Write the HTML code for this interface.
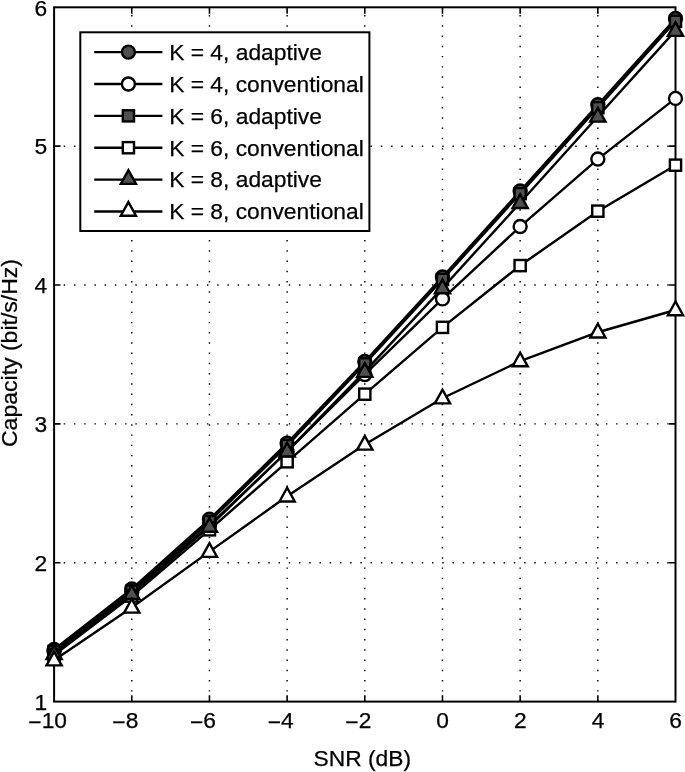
<!DOCTYPE html>
<html lang="en">
<head>
<meta charset="utf-8">
<title>Capacity versus SNR</title>
<style>
html,body{margin:0;padding:0;background:#fff;}
body{width:685px;height:772px;overflow:hidden;}
svg{display:block;}
text{font-family:"Liberation Sans",sans-serif;font-size:22.8px;fill:#000;stroke:#000;stroke-width:0.25px;}
.ax{fill:none;stroke:#000;stroke-width:2;}
.grid{fill:none;stroke:#000;stroke-width:1.45;stroke-dasharray:1.45 8.78;}
.ser{stroke:#000;stroke-width:2.4;stroke-linejoin:miter;stroke-miterlimit:10;}
.ser polyline,.ser line{fill:none;}
</style>
</head>
<body>
<svg width="685" height="772" viewBox="0 0 685 772">
<rect x="0" y="0" width="685" height="772" fill="#fff"/>

<g class="grid">
<line x1="131.78" y1="701.85" x2="131.78" y2="7.30"/>
<line x1="209.45" y1="701.85" x2="209.45" y2="7.30"/>
<line x1="287.12" y1="701.85" x2="287.12" y2="7.30"/>
<line x1="364.80" y1="701.85" x2="364.80" y2="7.30"/>
<line x1="442.48" y1="701.85" x2="442.48" y2="7.30"/>
<line x1="520.15" y1="701.85" x2="520.15" y2="7.30"/>
<line x1="597.83" y1="701.85" x2="597.83" y2="7.30"/>
<line x1="53.50" y1="562.74" x2="675.50" y2="562.74"/>
<line x1="53.50" y1="423.88" x2="675.50" y2="423.88"/>
<line x1="53.50" y1="285.02" x2="675.50" y2="285.02"/>
<line x1="53.50" y1="146.16" x2="675.50" y2="146.16"/>
</g>
<g class="ax">
<rect x="54.1" y="7.3" width="621.40" height="694.30"/>
<path d="M131.78 701.6v-6.4M131.78 7.3v6.4M209.45 701.6v-6.4M209.45 7.3v6.4M287.12 701.6v-6.4M287.12 7.3v6.4M364.80 701.6v-6.4M364.80 7.3v6.4M442.48 701.6v-6.4M442.48 7.3v6.4M520.15 701.6v-6.4M520.15 7.3v6.4M597.83 701.6v-6.4M597.83 7.3v6.4M54.1 562.74h6.4M675.5 562.74h-6.4M54.1 423.88h6.4M675.5 423.88h-6.4M54.1 285.02h6.4M675.5 285.02h-6.4M54.1 146.16h6.4M675.5 146.16h-6.4" style="stroke-width:1.6"/>
</g>
<g class="ser">
<polyline points="54.10,649.53 131.78,588.85 209.45,519.28 287.12,443.18 364.80,361.53 442.48,276.97 520.15,191.01 597.83,104.78 675.50,18.55"/>
<circle cx="54.10" cy="649.53" r="6.5" fill="#505050"/>
<circle cx="131.78" cy="588.85" r="6.5" fill="#505050"/>
<circle cx="209.45" cy="519.28" r="6.5" fill="#505050"/>
<circle cx="287.12" cy="443.18" r="6.5" fill="#505050"/>
<circle cx="364.80" cy="361.53" r="6.5" fill="#505050"/>
<circle cx="442.48" cy="276.97" r="6.5" fill="#505050"/>
<circle cx="520.15" cy="191.01" r="6.5" fill="#505050"/>
<circle cx="597.83" cy="104.78" r="6.5" fill="#505050"/>
<circle cx="675.50" cy="18.55" r="6.5" fill="#505050"/>
</g>
<g class="ser">
<polyline points="54.10,651.61 131.78,591.90 209.45,525.25 287.12,451.65 364.80,374.45 442.48,298.91 520.15,226.56 597.83,159.07 675.50,98.39"/>
<circle cx="54.10" cy="651.61" r="6.5" fill="#fff"/>
<circle cx="131.78" cy="591.90" r="6.5" fill="#fff"/>
<circle cx="209.45" cy="525.25" r="6.5" fill="#fff"/>
<circle cx="287.12" cy="451.65" r="6.5" fill="#fff"/>
<circle cx="364.80" cy="374.45" r="6.5" fill="#fff"/>
<circle cx="442.48" cy="298.91" r="6.5" fill="#fff"/>
<circle cx="520.15" cy="226.56" r="6.5" fill="#fff"/>
<circle cx="597.83" cy="159.07" r="6.5" fill="#fff"/>
<circle cx="675.50" cy="98.39" r="6.5" fill="#fff"/>
</g>
<g class="ser">
<polyline points="54.10,651.61 131.78,591.21 209.45,521.64 287.12,445.54 364.80,363.89 442.48,279.47 520.15,193.65 597.83,107.70 675.50,21.32"/>
<rect x="48.50" y="646.01" width="11.2" height="11.2" fill="#505050"/>
<rect x="126.18" y="585.61" width="11.2" height="11.2" fill="#505050"/>
<rect x="203.85" y="516.04" width="11.2" height="11.2" fill="#505050"/>
<rect x="281.52" y="439.94" width="11.2" height="11.2" fill="#505050"/>
<rect x="359.20" y="358.29" width="11.2" height="11.2" fill="#505050"/>
<rect x="436.88" y="273.87" width="11.2" height="11.2" fill="#505050"/>
<rect x="514.55" y="188.05" width="11.2" height="11.2" fill="#505050"/>
<rect x="592.23" y="102.10" width="11.2" height="11.2" fill="#505050"/>
<rect x="669.90" y="15.72" width="11.2" height="11.2" fill="#505050"/>
</g>
<g class="ser">
<polyline points="54.10,655.08 131.78,596.07 209.45,529.83 287.12,461.79 364.80,394.16 442.48,327.37 520.15,265.58 597.83,211.15 675.50,165.18"/>
<rect x="48.50" y="649.48" width="11.2" height="11.2" fill="#fff"/>
<rect x="126.18" y="590.47" width="11.2" height="11.2" fill="#fff"/>
<rect x="203.85" y="524.23" width="11.2" height="11.2" fill="#fff"/>
<rect x="281.52" y="456.19" width="11.2" height="11.2" fill="#fff"/>
<rect x="359.20" y="388.56" width="11.2" height="11.2" fill="#fff"/>
<rect x="436.88" y="321.77" width="11.2" height="11.2" fill="#fff"/>
<rect x="514.55" y="259.98" width="11.2" height="11.2" fill="#fff"/>
<rect x="592.23" y="205.55" width="11.2" height="11.2" fill="#fff"/>
<rect x="669.90" y="159.58" width="11.2" height="11.2" fill="#fff"/>
</g>
<g class="ser">
<polyline points="54.10,653.83 131.78,593.84 209.45,526.50 287.12,451.24 364.80,371.67 442.48,288.07 520.15,202.81 597.83,116.44 675.50,30.63"/>
<path d="M46.50 659.03L61.70 659.03L54.10 645.33Z" fill="#505050"/>
<path d="M124.18 599.04L139.38 599.04L131.78 585.34Z" fill="#505050"/>
<path d="M201.85 531.70L217.05 531.70L209.45 518.00Z" fill="#505050"/>
<path d="M279.52 456.44L294.73 456.44L287.12 442.74Z" fill="#505050"/>
<path d="M357.20 376.87L372.40 376.87L364.80 363.17Z" fill="#505050"/>
<path d="M434.88 293.27L450.08 293.27L442.48 279.57Z" fill="#505050"/>
<path d="M512.55 208.01L527.75 208.01L520.15 194.31Z" fill="#505050"/>
<path d="M590.23 121.64L605.43 121.64L597.83 107.94Z" fill="#505050"/>
<path d="M667.90 35.83L683.10 35.83L675.50 22.13Z" fill="#505050"/>
</g>
<g class="ser">
<polyline points="54.10,660.22 131.78,607.45 209.45,551.63 287.12,496.23 364.80,444.43 442.48,398.19 520.15,361.12 597.83,332.23 675.50,310.01"/>
<path d="M46.50 665.42L61.70 665.42L54.10 651.72Z" fill="#fff"/>
<path d="M124.18 612.65L139.38 612.65L131.78 598.95Z" fill="#fff"/>
<path d="M201.85 556.83L217.05 556.83L209.45 543.13Z" fill="#fff"/>
<path d="M279.52 501.43L294.73 501.43L287.12 487.73Z" fill="#fff"/>
<path d="M357.20 449.63L372.40 449.63L364.80 435.93Z" fill="#fff"/>
<path d="M434.88 403.39L450.08 403.39L442.48 389.69Z" fill="#fff"/>
<path d="M512.55 366.32L527.75 366.32L520.15 352.62Z" fill="#fff"/>
<path d="M590.23 337.43L605.43 337.43L597.83 323.73Z" fill="#fff"/>
<path d="M667.90 315.21L683.10 315.21L675.50 301.51Z" fill="#fff"/>
</g>
<rect class="ax" x="80.3" y="32.3" width="289.1" height="198.7" style="fill:#fff"/>
<g class="ser">
<line x1="94.2" y1="52.10" x2="162.4" y2="52.10"/>
<circle cx="128.40" cy="52.10" r="6.5" fill="#505050"/>
</g>
<text x="169.2" y="59.90">K = 4, adaptive</text>
<g class="ser">
<line x1="94.2" y1="83.97" x2="162.4" y2="83.97"/>
<circle cx="128.40" cy="83.97" r="6.5" fill="#fff"/>
</g>
<text x="169.2" y="91.77">K = 4, conventional</text>
<g class="ser">
<line x1="94.2" y1="115.84" x2="162.4" y2="115.84"/>
<rect x="122.80" y="110.24" width="11.2" height="11.2" fill="#505050"/>
</g>
<text x="169.2" y="123.64">K = 6, adaptive</text>
<g class="ser">
<line x1="94.2" y1="147.71" x2="162.4" y2="147.71"/>
<rect x="122.80" y="142.11" width="11.2" height="11.2" fill="#fff"/>
</g>
<text x="169.2" y="155.51">K = 6, conventional</text>
<g class="ser">
<line x1="94.2" y1="179.58" x2="162.4" y2="179.58"/>
<path d="M120.80 183.88L136.00 183.88L128.40 170.18Z" fill="#505050"/>
</g>
<text x="169.2" y="187.38">K = 8, adaptive</text>
<g class="ser">
<line x1="94.2" y1="211.45" x2="162.4" y2="211.45"/>
<path d="M120.80 215.75L136.00 215.75L128.40 202.05Z" fill="#fff"/>
</g>
<text x="169.2" y="219.25">K = 8, conventional</text>
<text x="47.2" y="709.90" text-anchor="end">1</text>
<text x="47.2" y="571.04" text-anchor="end">2</text>
<text x="47.2" y="432.18" text-anchor="end">3</text>
<text x="47.2" y="293.32" text-anchor="end">4</text>
<text x="47.2" y="154.46" text-anchor="end">5</text>
<text x="47.2" y="15.60" text-anchor="end">6</text>
<text x="28.31" y="728.3"><tspan dy="1.6">−</tspan><tspan dy="-1.6">10</tspan></text>
<text x="112.32" y="728.3"><tspan dy="1.6">−</tspan><tspan dy="-1.6">8</tspan></text>
<text x="189.99" y="728.3"><tspan dy="1.6">−</tspan><tspan dy="-1.6">6</tspan></text>
<text x="267.67" y="728.3"><tspan dy="1.6">−</tspan><tspan dy="-1.6">4</tspan></text>
<text x="345.35" y="728.3"><tspan dy="1.6">−</tspan><tspan dy="-1.6">2</tspan></text>
<text x="442.68" y="728.3" text-anchor="middle">0</text>
<text x="520.35" y="728.3" text-anchor="middle">2</text>
<text x="598.03" y="728.3" text-anchor="middle">4</text>
<text x="675.70" y="728.3" text-anchor="middle">6</text>
<text x="362.3" y="766.3" text-anchor="middle">SNR (dB)</text>
<text transform="translate(16.6 353.0) rotate(-90) scale(1.01 1)" text-anchor="middle">Capacity (bit/s/Hz)</text>
</svg>
</body>
</html>
